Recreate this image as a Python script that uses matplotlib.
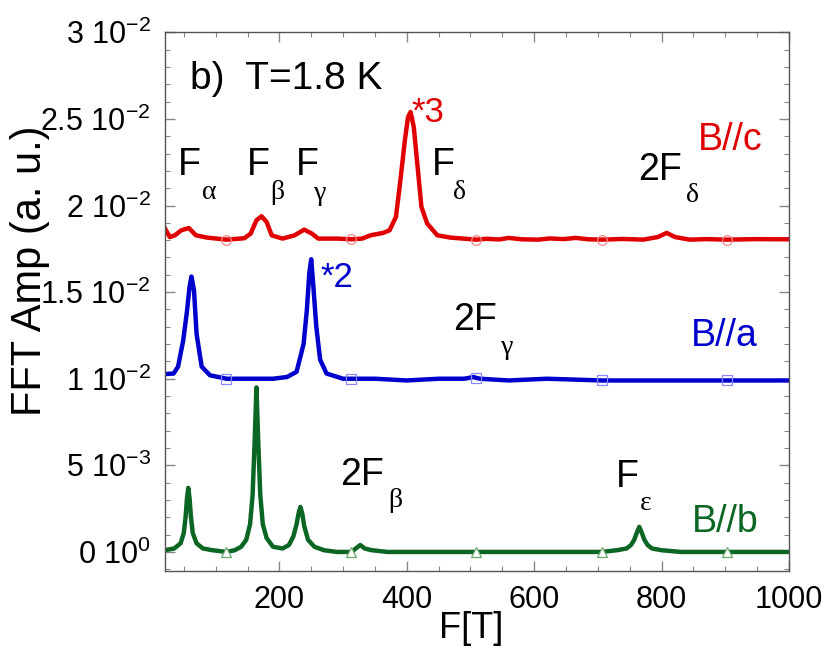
import numpy as np
import matplotlib
matplotlib.use('Agg')
import matplotlib.pyplot as plt
from matplotlib.ticker import FixedLocator, FixedFormatter, MultipleLocator

plt.rcParams['font.family'] = ['Liberation Sans', 'DejaVu Sans']
plt.rcParams['mathtext.fontset'] = 'custom'
plt.rcParams['mathtext.rm'] = 'Liberation Sans'
plt.rcParams['mathtext.it'] = 'Liberation Sans:italic'

# B//c spectrum (already offset, peak at ~405 T scaled *3)
f_c = [20, 28, 36, 46, 58, 69, 86, 117, 145, 155, 164, 172, 180, 188, 205, 224, 239,
       251, 261, 290, 313, 330, 343, 363, 373, 383, 390, 397, 402, 406, 411, 417, 423,
       432, 448, 468, 509, 525, 545, 560, 580, 606, 625, 646, 665, 685, 706, 740, 771,
       794, 808, 821, 844, 870, 902, 950, 1000]
amp_c = [0.0187, 0.01818, 0.01828, 0.01857, 0.0187, 0.01828, 0.01815, 0.01803, 0.01811,
         0.01838, 0.01915, 0.01938, 0.01905, 0.01828, 0.01809, 0.01828, 0.01861, 0.01838,
         0.01809, 0.01809, 0.01805, 0.01809, 0.01828, 0.01842, 0.01857, 0.01934, 0.02146,
         0.02376, 0.02511, 0.0254, 0.02453, 0.02223, 0.01992, 0.01896, 0.01828, 0.01815,
         0.01803, 0.01808, 0.01804, 0.01813, 0.01805, 0.01803, 0.01810, 0.01806, 0.01813,
         0.01805, 0.01803, 0.01807, 0.01803, 0.01818, 0.01842, 0.01818, 0.01803, 0.01806,
         0.01803, 0.01806, 0.01805]

# B//a spectrum (peak at ~250 T scaled *2)
f_a = [20, 34, 41, 49, 55, 59, 62, 66, 70, 78, 91, 117, 150, 190, 212, 227, 238, 243,
       247, 250, 253, 258, 264, 274, 300, 313, 350, 400, 450, 490, 505, 509, 515, 560,
       620, 706, 800, 902, 1000]
amp_a = [0.01027, 0.0103, 0.0107, 0.0122, 0.0139, 0.0153, 0.0159, 0.0151, 0.0126, 0.0107,
         0.0102, 0.0100, 0.0100, 0.0100, 0.0101, 0.0104, 0.0120, 0.0139, 0.0161, 0.0169,
         0.0155, 0.0130, 0.0111, 0.0103, 0.0100, 0.0100, 0.0100, 0.0099, 0.0100, 0.0100,
         0.0101, 0.01005, 0.0100, 0.0099, 0.0100, 0.0099, 0.0099, 0.0099, 0.0099]

# B//b spectrum
f_b = [20, 35, 45, 50, 53, 55, 57, 59, 61, 64, 70, 80, 95, 117, 130, 140, 148, 154, 158,
       161, 164, 167, 170, 174, 180, 190, 205, 215, 222, 227, 230, 233, 236, 239, 245,
       255, 270, 290, 313, 320, 327, 334, 345, 370, 420, 509, 600, 680, 706, 730, 745,
       752, 757, 761, 765, 769, 773, 778, 785, 800, 830, 902, 1000]
amp_b = [0.0001, 0.0002, 0.0005, 0.0011, 0.0021, 0.0031, 0.0037, 0.0031, 0.0021, 0.0011,
         0.0005, 0.0002, 0.0001, 0.0000, 0.0001, 0.0003, 0.0007, 0.0016, 0.0033, 0.0062,
         0.0095, 0.0062, 0.0033, 0.0016, 0.0008, 0.0003, 0.0002, 0.0004, 0.0009, 0.0016,
         0.0022, 0.0026, 0.0022, 0.0015, 0.0007, 0.0003, 0.0001, 0.0000, 0.0000, 0.0002,
         0.0004, 0.0002, 0.0001, 0.0000, 0.0000, 0.0000, 0.0000, 0.0000, 0.0000, 0.0001,
         0.0002, 0.0004, 0.0007, 0.0011, 0.00145, 0.0011, 0.0007, 0.0004, 0.0002, 0.0001,
         0.0000, 0.0000, 0.0000]

marker_f = [117, 313, 509, 706, 902]

xtick_values = [200, 400, 600, 800, 1000]
ytick_values = [0, 0.005, 0.01, 0.015, 0.02, 0.025, 0.03]
ytick_labels = ['0 10$^{0}$', '5 10$^{-3}$', '1 10$^{-2}$', '1.5 10$^{-2}$',
                '2 10$^{-2}$', '2.5 10$^{-2}$', '3 10$^{-2}$']

red = '#e00000'
blue = '#0000cc'
green = '#0b6623'

fig = plt.figure(figsize=(8.31, 6.58), dpi=100)
ax = fig.add_axes([164.7/831, 87/658, 624.3/831, 538.7/658])

series = [
    (f_c, amp_c, red, 'o', '#f08a8a', 'none'),
    (f_a, amp_a, blue, 's', '#8a8aff', 'none'),
    (f_b, amp_b, green, '^', '#6aa870', 'white'),
]
for fx, fy, col, mk, mec, mfc in series:
    idx = [i for i, v in enumerate(fx) if v in marker_f]
    ax.plot(fx, fy, color=col, lw=3.2, solid_joinstyle='round')
    ax.plot(np.array(fx)[idx], np.array(fy)[idx], ls='none', marker=mk, ms=7,
            mec=mec, mfc=mfc, mew=0.9)

ax.set_xlim(20, 1000)
ax.set_ylim(-0.0011, 0.03)
ax.xaxis.set_major_locator(FixedLocator(xtick_values))
ax.xaxis.set_minor_locator(MultipleLocator(50))
ax.yaxis.set_major_locator(FixedLocator(ytick_values))
ax.yaxis.set_major_formatter(FixedFormatter(ytick_labels))
ax.yaxis.set_minor_locator(MultipleLocator(0.001))
ax.tick_params(which='both', direction='in', top=True, right=True, color='#888888',
               labelsize=22, pad=10)
ax.tick_params(which='major', length=7, width=1)
ax.tick_params(which='minor', length=3.5, width=0.8)
for s in ax.spines.values():
    s.set_color('#555555')
    s.set_linewidth(1)

fig.text(30/831, 1 - 271/658, 'FFT Amp (a. u.)', rotation=90, ha='center', va='center',
         fontsize=30)
fig.text(471/831, 1 - 628/658, 'F[T]', ha='center', va='center', fontsize=26)

big = 27
sub = 20
ax.text(60, 0.02674, 'b)  T=1.8 K', fontsize=28)


def peak_label(x, y, main, xs, ys, greek):
    ax.text(x, y, main, fontsize=big)
    ax.text(xs, ys, greek, fontsize=sub, family=['Liberation Serif', 'DejaVu Serif'])


peak_label(41.4, 0.02174, 'F', 78.6, 0.02035, 'α')
peak_label(148.7, 0.02174, 'F', 186.0, 0.02035, 'β')
peak_label(226.0, 0.02174, 'F', 254.0, 0.02030, 'γ')
peak_label(439.2, 0.02174, 'F', 472.6, 0.02035, 'δ')
peak_label(763.5, 0.0215, '2F', 838.4, 0.0202, 'δ')
peak_label(473, 0.0128, '2F', 547.5, 0.01145, 'γ')
peak_label(295.2, 0.00387, '2F', 371, 0.00262, 'β')
peak_label(728.5, 0.00373, 'F', 766.2, 0.00245, 'ε')

ax.text(408, 0.02482, '*3', fontsize=25, color=red)
ax.text(264, 0.01527, '*2', fontsize=25, color=blue)
ax.text(857.7, 0.02321, 'B//c', fontsize=big, color=red)
ax.text(845.7, 0.0119, 'B//a', fontsize=big, color=blue)
ax.text(847.3, 0.00117, 'B//b', fontsize=big, color=green)

fig.savefig('out.png', dpi=100)
